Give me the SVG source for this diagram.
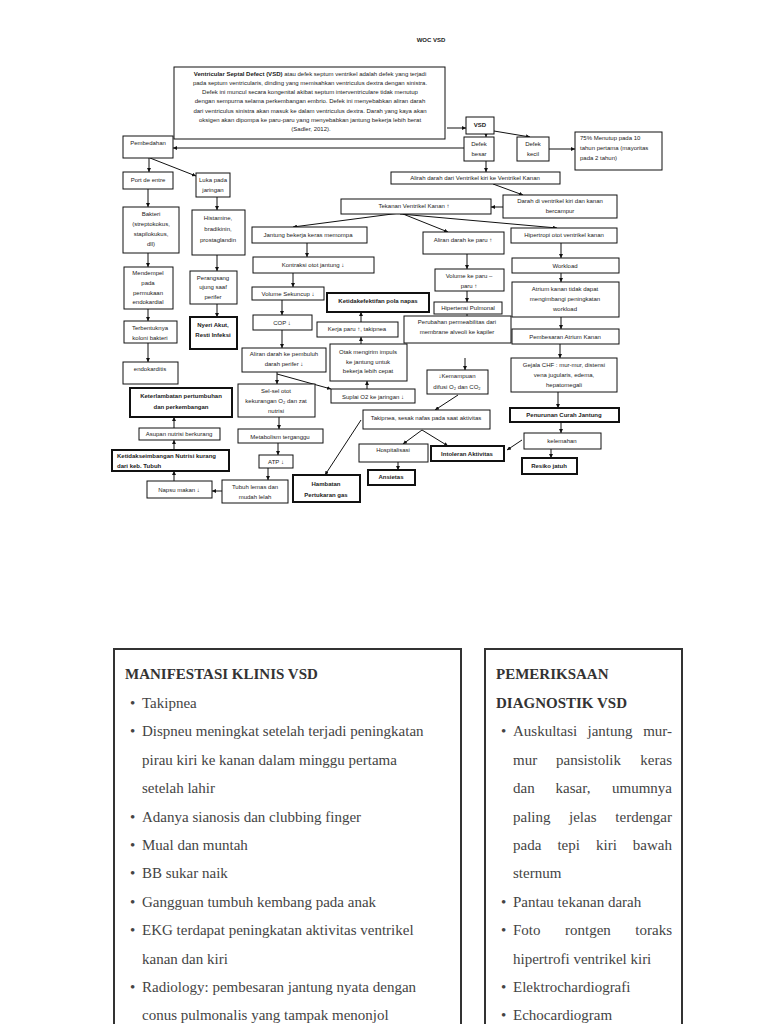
<svg xmlns="http://www.w3.org/2000/svg" width="768" height="1024" viewBox="0 0 768 1024">
<style>
.bx{fill:#fff;stroke:#111;stroke-width:1}
.bb{fill:#fff;stroke:#111;stroke-width:2}
text{font-family:"Liberation Sans","DejaVu Sans",sans-serif;font-size:6px;fill:#222;text-anchor:middle}
.b{font-weight:bold}
.l{text-anchor:start}
.c line{stroke:#111;stroke-width:1;marker-end:url(#a)}
.s{font-family:"Liberation Serif","DejaVu Serif",serif;font-size:15px;fill:#444;text-anchor:start}
.e{text-anchor:end}
.sh{font-family:"Liberation Serif","DejaVu Serif",serif;font-size:15px;fill:#333;font-weight:bold;text-anchor:start}
.pb{fill:#fff;stroke:#333;stroke-width:2}
</style>
<defs>
<marker id="a" viewBox="0 0 10 10" refX="10" refY="5" markerWidth="4" markerHeight="4" orient="auto"><path d="M0,0 L10,5 L0,10 z" fill="#111"/></marker>
</defs>
<rect width="768" height="1024" fill="#fff"/>
<text class="b" x="431" y="42">WOC VSD</text>

<g class="c">
<line x1="447" y1="128" x2="466" y2="128"/>
<line x1="486" y1="133" x2="486" y2="137"/>
<line x1="494" y1="131" x2="530" y2="137"/>
<line x1="549" y1="149" x2="575" y2="149"/>
<line x1="464" y1="148" x2="173" y2="148"/>
<line x1="486" y1="161" x2="486" y2="172"/>
<line x1="493" y1="184" x2="523" y2="195"/>
<line x1="503" y1="207" x2="491" y2="207"/>
<line x1="400" y1="213" x2="293" y2="227"/>
<line x1="403" y1="214" x2="448" y2="232"/>
<line x1="400" y1="214" x2="557" y2="228"/>
<line x1="149" y1="158" x2="149" y2="172"/>
<line x1="150" y1="158" x2="196" y2="176"/>
<line x1="148" y1="189" x2="148" y2="207"/>
<line x1="217" y1="197" x2="217" y2="210"/>
<line x1="148" y1="253" x2="148" y2="267"/>
<line x1="217" y1="255" x2="217" y2="271"/>
<line x1="148" y1="309" x2="148" y2="321"/>
<line x1="217" y1="304" x2="217" y2="317"/>
<line x1="148" y1="343" x2="148" y2="362"/>
<line x1="307" y1="243" x2="307" y2="257"/>
<line x1="293" y1="273" x2="293" y2="287"/>
<line x1="282" y1="300" x2="282" y2="315"/>
<line x1="282" y1="330" x2="282" y2="348"/>
<line x1="277" y1="372" x2="277" y2="384"/>
<line x1="277" y1="374" x2="331" y2="389"/>
<line x1="367" y1="389" x2="367" y2="381"/>
<line x1="361" y1="344" x2="361" y2="337"/>
<line x1="361" y1="322" x2="361" y2="312"/>
<line x1="279" y1="417" x2="279" y2="429"/>
<line x1="278" y1="443" x2="278" y2="455"/>
<line x1="268" y1="468" x2="268" y2="480"/>
<line x1="222" y1="491" x2="212" y2="491"/>
<line x1="174" y1="481" x2="174" y2="471"/>
<line x1="174" y1="450" x2="174" y2="440"/>
<line x1="174" y1="428" x2="174" y2="417"/>
<line x1="467" y1="254" x2="467" y2="269"/>
<line x1="467" y1="291" x2="467" y2="302"/>
<line x1="467" y1="313" x2="467" y2="328"/>
<line x1="465" y1="358" x2="465" y2="370"/>
<line x1="458" y1="395" x2="435" y2="410"/>
<line x1="422" y1="430" x2="403" y2="444"/>
<line x1="422" y1="430" x2="448" y2="446"/>
<line x1="361" y1="420" x2="325" y2="475"/>
<line x1="398" y1="462" x2="398" y2="470"/>
<line x1="522" y1="440" x2="507" y2="450"/>
<line x1="561" y1="243" x2="561" y2="258"/>
<line x1="561" y1="273" x2="561" y2="282"/>
<line x1="561" y1="317" x2="561" y2="329"/>
<line x1="560" y1="344" x2="560" y2="358"/>
<line x1="558" y1="392" x2="558" y2="408"/>
<line x1="561" y1="422" x2="561" y2="433"/>
<line x1="551" y1="449" x2="551" y2="458"/>
</g>

<g id="intro"><rect class="bx" x="174" y="67" width="271" height="72"/>
<text x="310" y="75.5"><tspan class="b">Ventricular Septal Defect (VSD)</tspan> atau defek septum ventrikel adalah defek yang terjadi</text>
<text x="310" y="84.8">pada septum ventricularis, dinding yang memisahkan ventriculus dextra dengan sinistra.</text>
<text x="310" y="94.1">Defek ini muncul secara kongenital akibat septum interventriculare tidak menutup</text>
<text x="310" y="103.4">dengan sempurna selama perkembangan embrio. Defek ini menyebabkan aliran darah</text>
<text x="310" y="112.7">dari ventriculus sinistra akan masuk ke dalam ventriculus dextra. Darah yang kaya akan</text>
<text x="310" y="122">oksigen akan dipompa ke paru-paru yang menyebabkan jantung bekerja lebih berat</text>
<text x="311" y="131.3">(Sadler, 2012).</text></g>

<g id="vsd"><rect class="bx" x="466" y="117" width="28" height="17"/><text class="b" x="480" y="127">VSD</text></g>
<g id="defekbesar"><rect class="bx" x="464" y="137" width="30" height="24"/><text x="479" y="146">Defek</text><text x="479" y="156">besar</text></g>
<g id="defekkecil"><rect class="bx" x="517" y="137" width="32" height="24"/><text x="533" y="146">Defek</text><text x="533" y="156">kecil</text></g>
<g id="menutup"><rect class="bx" x="575" y="132" width="87" height="38"/><text class="l" x="580" y="140">75% Menutup pada 10</text><text class="l" x="580" y="150">tahun pertama (mayoritas</text><text class="l" x="580" y="160">pada 2 tahun)</text></g>
<g id="pembedahan"><rect class="bx" x="123" y="136" width="50" height="22"/><text x="148" y="145">Pembedahan</text></g>
<g id="port"><rect class="bx" x="123" y="172" width="50" height="17"/><text x="148" y="182">Port de entre</text></g>
<g id="luka"><rect class="bx" x="196" y="173" width="34" height="24"/><text x="213" y="182">Luka pada</text><text x="213" y="192">jaringan</text></g>
<g id="bakteri"><rect class="bx" x="123" y="207" width="56" height="46"/><text x="151" y="216">Bakteri</text><text x="151" y="226">(streptokokus,</text><text x="151" y="236">stapilokukus,</text><text x="151" y="246">dll)</text></g>
<g id="histamine"><rect class="bx" x="192" y="210" width="53" height="45"/><text x="218" y="220">Histamine,</text><text x="218" y="231">bradikinin,</text><text x="218" y="242">prostaglandin</text></g>
<g id="mendempel"><rect class="bx" x="124" y="267" width="49" height="42"/><text x="148" y="275">Mendempel</text><text x="148" y="285">pada</text><text x="148" y="295">permukaan</text><text x="148" y="304">endokardial</text></g>
<g id="terbentuknya"><rect class="bx" x="124" y="321" width="53" height="22"/><text x="150" y="330">Terbentuknya</text><text x="150" y="340">koloni bakteri</text></g>
<g id="endokarditis"><rect class="bx" x="123" y="362" width="55" height="22"/><text x="150" y="371">endokarditis</text></g>
<g id="perangsang"><rect class="bx" x="190" y="271" width="47" height="33"/><text x="213" y="280">Perangsang</text><text x="213" y="289">ujung saaf</text><text x="213" y="299">perifer</text></g>
<g id="nyeri"><rect class="bb" x="190" y="317" width="47" height="32"/><text class="b" x="213" y="327">Nyeri Akut,</text><text class="b" x="213" y="337">Resti Infeksi</text></g>
<g id="alirah"><rect class="bx" x="391" y="172" width="169" height="12"/><text x="475" y="180">Alirah darah dari Ventrikel kiri ke Ventrikel Kanan</text></g>
<g id="darahcampur"><rect class="bx" x="503" y="195" width="114" height="23"/><text x="560" y="203">Darah di ventrikel kiri dan kanan</text><text x="560" y="213">bercampur</text></g>
<g id="tekanan"><rect class="bx" x="341" y="199" width="150" height="15"/><text x="414" y="208">Tekanan Ventrikel Kanan ↑</text></g>
<g id="jantung"><rect class="bx" x="252" y="227" width="115" height="16"/><text x="308" y="237">Jantung bekerja keras memompa</text></g>
<g id="aliranparu"><rect class="bx" x="423" y="232" width="81" height="22"/><text x="463" y="242">Aliran darah ke paru ↑</text></g>
<g id="hipertropi"><rect class="bx" x="511" y="228" width="106" height="15"/><text x="564" y="237">Hipertropi otot ventrikel kanan</text></g>
<g id="kontraksi"><rect class="bx" x="253" y="257" width="121" height="16"/><text x="313" y="267">Kontraksi otot jantung ↓</text></g>
<g id="volsek"><rect class="bx" x="252" y="287" width="72" height="13"/><text x="288" y="296">Volume Sekuncup ↓</text></g>
<g id="cop"><rect class="bx" x="253" y="315" width="59" height="15"/><text x="282" y="325">COP ↓</text></g>
<g id="aliranperifer"><rect class="bx" x="242" y="348" width="84" height="24"/><text x="284" y="356">Aliran darah ke pembuluh</text><text x="284" y="366">darah perifer  ↓</text></g>
<g id="polanapas"><rect class="bb" x="327" y="293" width="102" height="19"/><text class="b" x="378" y="303">Ketidakefektifan pola napas</text></g>
<g id="kerjaparu"><rect class="bx" x="317" y="322" width="81" height="15"/><text x="357" y="331">Kerja paru ↑, takipnea</text></g>
<g id="otak"><rect class="bx" x="330" y="344" width="77" height="37"/><text x="368" y="354">Otak mengirim impuls</text><text x="368" y="364">ke jantung untuk</text><text x="368" y="373">bekerja lebih cepat</text></g>
<g id="suplai"><rect class="bx" x="331" y="389" width="84" height="14"/><text x="373" y="399">Suplai O2 ke jaringan  ↓</text></g>
<g id="selotot"><rect class="bx" x="238" y="384" width="77" height="33"/><text x="276" y="393">Sel-sel otot</text><text x="276" y="403">kekurangan O₂ dan zat</text><text x="276" y="413">nutrisi</text></g>
<g id="metabolism"><rect class="bx" x="238" y="429" width="85" height="14"/><text x="280" y="439">Metabolism terganggu</text></g>
<g id="atp"><rect class="bx" x="259" y="455" width="34" height="13"/><text x="276" y="464">ATP ↓</text></g>
<g id="tubuhlemas"><rect class="bx" x="222" y="480" width="66" height="23"/><text x="255" y="489">Tubuh lemas dan</text><text x="255" y="499">mudah lelah</text></g>
<g id="napsu"><rect class="bx" x="147" y="481" width="65" height="17"/><text x="179" y="492">Napsu makan ↓</text></g>
<g id="nutrisi"><rect class="bb" x="112" y="450" width="117" height="21"/><text class="b l" x="117" y="458">Ketidakseimbangan Nutrisi kurang</text><text class="b l" x="117" y="468">dari keb. Tubuh</text></g>
<g id="asupan"><rect class="bx" x="139" y="428" width="81" height="12"/><text x="179" y="436">Asupan nutrisi berkurang</text></g>
<g id="keterlambatan"><rect class="bb" x="130" y="388" width="102" height="29"/><text class="b" x="181" y="398">Keterlambatan pertumbuhan</text><text class="b" x="181" y="409">dan perkembangan</text></g>
<g id="hambatan"><rect class="bb" x="293" y="475" width="67" height="27"/><text class="b" x="326" y="486">Hambatan</text><text class="b" x="326" y="497">Pertukaran gas</text></g>
<g id="takipnea"><rect class="bx" x="363" y="410" width="127" height="19"/><text x="426" y="420">Takipnea, sesak nafas pada saat aktivitas</text></g>
<g id="kemampuan"><rect class="bx" x="427" y="370" width="61" height="24"/><text x="457" y="378">↓Kemampuan</text><text x="457" y="389">difusi O₂ dan CO₂</text></g>
<g id="perubahan"><rect class="bx" x="404" y="316" width="107" height="27"/><text x="457" y="324">Perubahan permeabilitas dari</text><text x="457" y="334">membrane alveoli ke kapiler</text></g>
<g id="volparu"><rect class="bx" x="435" y="269" width="69" height="22"/><text x="469" y="278">Volume ke paru –</text><text x="469" y="288">paru ↑</text></g>
<g id="hipertensi"><rect class="bx" x="434" y="302" width="68" height="12"/><text x="468" y="310">Hipertensi Pulmonal</text></g>
<g id="hospitalisasi"><rect class="bx" x="359" y="444" width="69" height="18"/><text x="393" y="452">Hospitalisasi</text></g>
<g id="intoleran"><rect class="bb" x="431" y="446" width="73" height="15"/><text class="b" x="467" y="456">Intoleran Aktivitas</text></g>
<g id="ansietas"><rect class="bb" x="368" y="470" width="47" height="15"/><text class="b" x="391" y="479">Ansietas</text></g>
<g id="workload"><rect class="bx" x="512" y="258" width="107" height="15"/><text x="565" y="268">Workload</text></g>
<g id="atrium"><rect class="bx" x="512" y="282" width="107" height="35"/><text x="565" y="291">Atrium kanan tidak dapat</text><text x="565" y="301">mengimbangi peningkatan</text><text x="565" y="311">workload</text></g>
<g id="pembesaran"><rect class="bx" x="512" y="329" width="107" height="15"/><text x="565" y="339">Pembesaran Atrium Kanan</text></g>
<g id="gejala"><rect class="bx" x="511" y="358" width="106" height="34"/><text x="564" y="367">Gejala CHF : mur-mur, distensi</text><text x="564" y="377">vena jugularis, edema,</text><text x="564" y="387">hepatomegali</text></g>
<g id="penurunan"><rect class="bb" x="510" y="408" width="109" height="14"/><text class="b" x="564" y="417">Penurunan Curah Jantung</text></g>
<g id="kelemahan"><rect class="bx" x="524" y="433" width="77" height="16"/><text x="562" y="443">kelemahan</text></g>
<g id="resiko"><rect class="bb" x="522" y="458" width="55" height="16"/><text class="b" x="549" y="468">Resiko jatuh</text></g>

<g id="manifestasi">
<rect class="pb" x="114" y="649" width="347" height="400"/>
<text class="sh" x="125" y="679">MANIFESTASI KLINIS VSD</text>
<text class="s" x="130" y="708">•</text><text class="s" x="142" y="708">Takipnea</text>
<text class="s" x="130" y="736.4">•</text><text class="s" x="142" y="736.4">Dispneu meningkat setelah terjadi peningkatan</text>
<text class="s" x="142" y="764.8">pirau kiri ke kanan dalam minggu pertama</text>
<text class="s" x="142" y="793.2">setelah lahir</text>
<text class="s" x="130" y="821.6">•</text><text class="s" x="142" y="821.6">Adanya sianosis dan clubbing finger</text>
<text class="s" x="130" y="850">•</text><text class="s" x="142" y="850">Mual dan muntah</text>
<text class="s" x="130" y="878.4">•</text><text class="s" x="142" y="878.4">BB sukar naik</text>
<text class="s" x="130" y="906.8">•</text><text class="s" x="142" y="906.8">Gangguan tumbuh kembang pada anak</text>
<text class="s" x="130" y="935.2">•</text><text class="s" x="142" y="935.2">EKG terdapat peningkatan aktivitas ventrikel</text>
<text class="s" x="142" y="963.6">kanan dan kiri</text>
<text class="s" x="130" y="992">•</text><text class="s" x="142" y="992">Radiology: pembesaran jantung nyata dengan</text>
<text class="s" x="142" y="1020">conus pulmonalis yang tampak menonjol</text>
</g>

<g id="pemeriksaan">
<rect class="pb" x="485" y="649" width="197" height="400"/>
<text class="sh" x="496" y="679">PEMERIKSAAN</text>
<text class="sh" x="496" y="708">DIAGNOSTIK VSD</text>
<text class="s" x="501" y="736.4">•</text><text class="s" x="513" y="736.4">Auskultasi</text><text class="s" x="587.5" y="736.4">jantung</text><text class="s e" x="672" y="736.4">mur-</text>
<text class="s" x="513" y="764.8">mur</text><text class="s" x="556" y="764.8">pansistolik</text><text class="s e" x="672" y="764.8">keras</text>
<text class="s" x="513" y="793.2">dan</text><text class="s" x="555.6" y="793.2">kasar,</text><text class="s e" x="672" y="793.2">umumnya</text>
<text class="s" x="513" y="821.6">paling</text><text class="s" x="569" y="821.6">jelas</text><text class="s e" x="672" y="821.6">terdengar</text>
<text class="s" x="513" y="850">pada</text><text class="s" x="557.4" y="850">tepi</text><text class="s" x="596" y="850">kiri</text><text class="s e" x="672" y="850">bawah</text>
<text class="s" x="513" y="878.4">sternum</text>
<text class="s" x="501" y="906.8">•</text><text class="s" x="513" y="906.8">Pantau tekanan darah</text>
<text class="s" x="501" y="935.2">•</text><text class="s" x="513" y="935.2">Foto</text><text class="s" x="565" y="935.2">rontgen</text><text class="s e" x="672" y="935.2">toraks</text>
<text class="s" x="513" y="963.6">hipertrofi ventrikel kiri</text>
<text class="s" x="501" y="992">•</text><text class="s" x="513" y="992">Elektrochardiografi</text>
<text class="s" x="501" y="1020">•</text><text class="s" x="513" y="1020">Echocardiogram</text>
</g>
</svg>
